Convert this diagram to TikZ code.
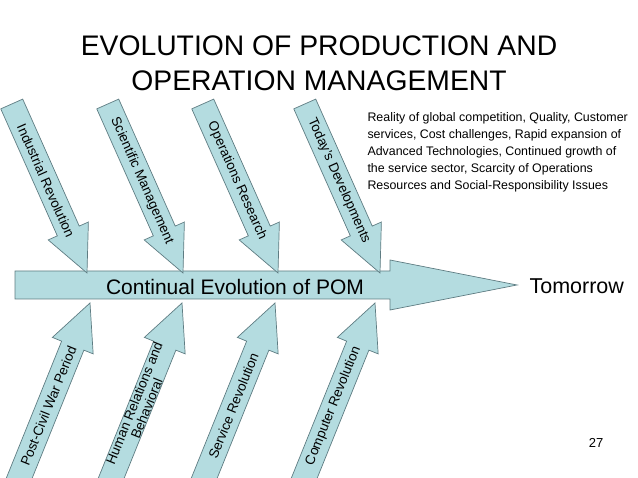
\documentclass[tikz,border=0pt]{standalone}
\usepackage{fontspec}
\setmainfont{Liberation Sans}
\definecolor{afill}{HTML}{B4DCE0}
\definecolor{aline}{HTML}{5E7C82}
\newcommand{\fishbone}[6]{%
  \begin{scope}[shift={(#1,#2)},rotate=#3]
    \draw[arr] (-#4,-12) -- (-46,-12) -- (-46,-22) -- (0,0) -- (-46,22) -- (-46,12) -- (-#4,12) -- cycle;
    \node[lbl,rotate=#3] (#6) at (-#4+84,0) {#5};
  \end{scope}}
\begin{document}
\begin{tikzpicture}[x=1pt,y=1pt,
  arr/.style={fill=afill,draw=aline,line width=0.7pt,line join=miter},
  lbl/.style={font=\fontsize{13.5}{13.5}\selectfont,align=center,inner sep=0pt}]
\useasboundingbox (0,0) rectangle (638,478);
\node[font=\fontsize{28.3}{35}\selectfont,align=center] (title) at (319,415) {EVOLUTION OF PRODUCTION AND\\OPERATION MANAGEMENT};
% main arrow
\draw[arr] (15,179) -- (390,179) -- (390,168) -- (517,193) -- (390,218) -- (390,207) -- (15,207) -- cycle;
\node[font=\fontsize{21}{24}\selectfont] (pom) at (235,191) {Continual Evolution of POM};
\node[font=\fontsize{21.5}{24}\selectfont,anchor=west] (tom) at (526,192) {Tomorrow};
% top arrows
\fishbone{87}{205}{-66}{185}{Industrial Revolution}{t1}
\fishbone{183}{205}{-66}{185}{Scientific Management}{t2}
\fishbone{278}{205}{-66}{185}{Operations Research}{t3}
\fishbone{380}{205}{-66}{185}{Today's Developments}{t4}
% bottom arrows
\fishbone{90}{175}{68}{195}{Post-Civil War Period}{b1}
\fishbone{182}{175}{68}{195}{Human Relations and\\Behavioral}{b2}
\fishbone{275}{175}{68}{195}{Service Revolution}{b3}
\fishbone{375}{175}{68}{195}{Computer Revolution}{b4}
\node[font=\fontsize{12.4}{17}\selectfont,align=left,anchor=north west] (real) at (364,369) {Reality of global competition, Quality, Customer\\services, Cost challenges, Rapid expansion of\\Advanced Technologies, Continued growth of\\the service sector, Scarcity of Operations\\Resources and Social-Responsibility Issues};
\node[font=\fontsize{13}{14}\selectfont] (pg) at (596,35) {27};
\end{tikzpicture}
\end{document}
